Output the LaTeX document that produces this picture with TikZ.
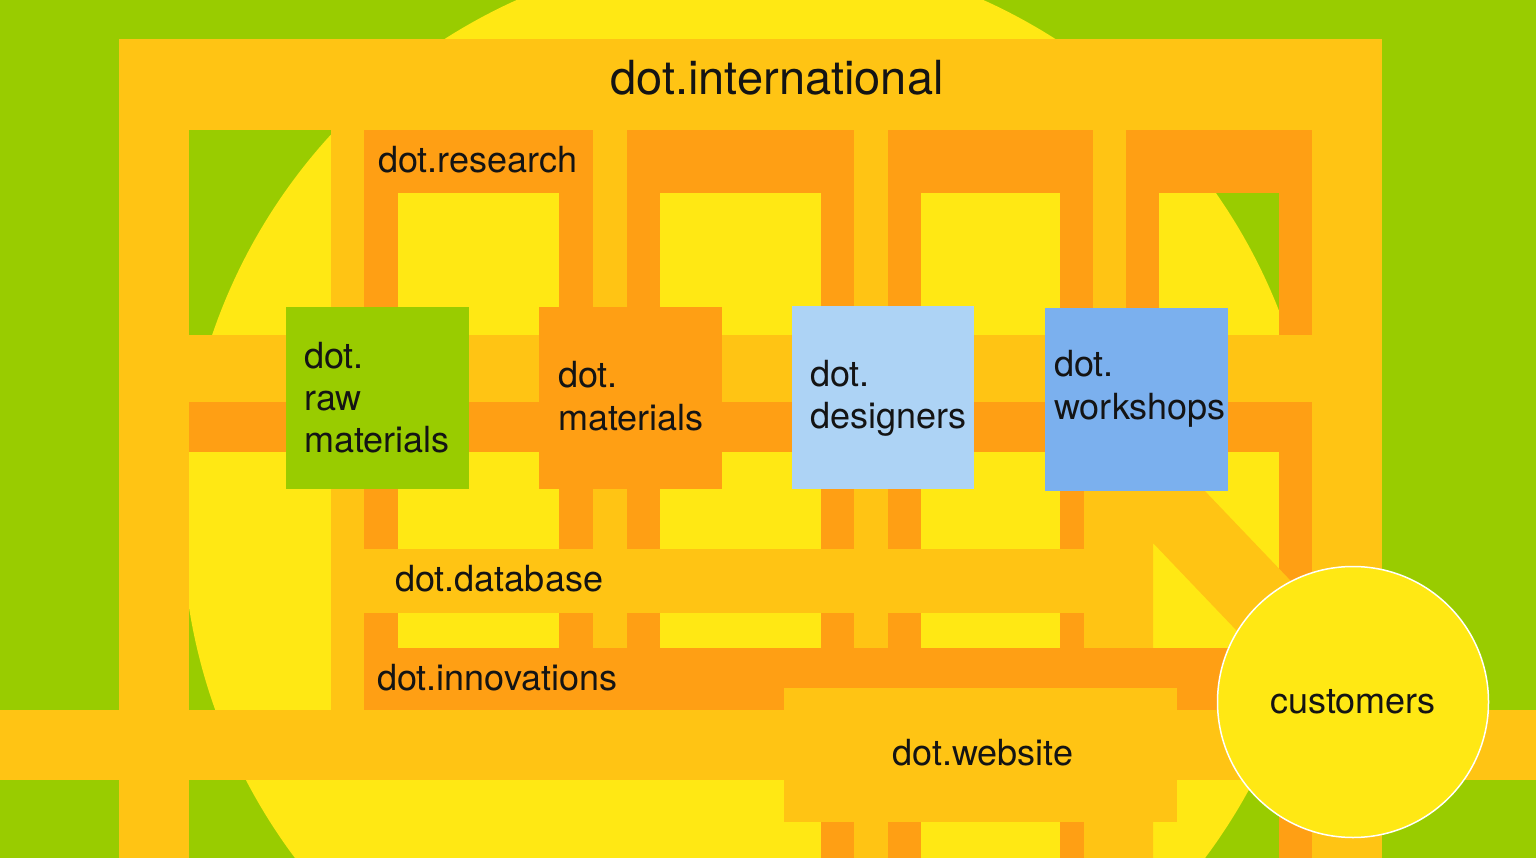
\documentclass[tikz,border=0pt]{standalone}
\usepackage{fontspec}
\setmainfont{TeX Gyre Heros}
\definecolor{bggreen}{RGB}{153,204,0}
\definecolor{sunyellow}{RGB}{255,232,20}
\definecolor{lorange}{RGB}{255,196,20}
\definecolor{dorange}{RGB}{255,159,20}
\definecolor{lblue}{RGB}{173,211,245}
\definecolor{mblue}{RGB}{123,176,238}
\definecolor{ink}{RGB}{20,20,20}
\tikzset{
  lo/.style={fill=lorange},
  og/.style={fill=dorange},
  boxnode/.style={rectangle, anchor=north west, inner sep=0pt, outer sep=0pt, draw=none},
  lbl/.style={anchor=base west, inner sep=0pt, text=ink, font=\fontsize{36}{42}\selectfont},
  lblc/.style={lbl, anchor=base},
}
\begin{document}
\begin{tikzpicture}[x=1pt,y=-1pt]
\path[use as bounding box] (0,0) rectangle (1536,858);
\clip (0,0) rectangle (1536,858);
\fill[bggreen] (0,0) rectangle (1536,858);
\fill[sunyellow] (750,518) circle[radius=568pt];
% outer frame (dot.international)
\fill[lo] (119,39) rectangle (1382,130);
\fill[lo] (119,39) rectangle (189,858);
\fill[lo] (1312,39) rectangle (1382,858);
% light orange columns between frames
\fill[lo] (331,130) rectangle (364,712);
\fill[lo] (593,130) rectangle (627,648);
\fill[lo] (854,130) rectangle (888,858);
\fill[lo] (1093,130) rectangle (1126,489);
% dot.research frame
\fill[og] (364,130) rectangle (593,193);
\fill[og] (364,130) rectangle (398,648);
\fill[og] (559,130) rectangle (593,648);
% frame 2
\fill[og] (627,130) rectangle (854,193);
\fill[og] (627,130) rectangle (660,648);
\fill[og] (821,130) rectangle (854,858);
% frame 3
\fill[og] (888,130) rectangle (1093,193);
\fill[og] (888,130) rectangle (921,858);
\fill[og] (1060,130) rectangle (1093,858);
% frame 4
\fill[og] (1126,130) rectangle (1312,193);
\fill[og] (1126,130) rectangle (1159,489);
\fill[og] (1279,130) rectangle (1312,858);
% horizontal bands through the boxes
\fill[lo] (189,335) rectangle (1382,402);
\fill[og] (189,402) rectangle (1312,452);
% dot.database
\fill[lo] (331,549) rectangle (1153,613);
% diagonal path to customers
\fill[lo] (1084,489) -- (1203,489) -- (1350,643) -- (1300,697) -- (1153,543) -- (1153,858) -- (1084,858) -- cycle;
% dot.innovations
\fill[og] (364,648) rectangle (1260,710);
% dot.website
\fill[lo] (0,710) rectangle (1536,780);
\node[boxnode, fill=lorange, minimum width=393pt, minimum height=134pt] (website) at (784,688) {};
% boxes
\node[boxnode, fill=bggreen, minimum width=183pt, minimum height=182pt] (raw) at (286,307) {};
\node[boxnode, fill=dorange, minimum width=183pt, minimum height=182pt] (materials) at (539,307) {};
\node[boxnode, fill=lblue, minimum width=182pt, minimum height=183pt] (designers) at (792,306) {};
\node[boxnode, fill=mblue, minimum width=183pt, minimum height=183pt] (workshops) at (1045,308) {};
% customers
\node[circle, fill=sunyellow, draw=white, line width=1.5pt, minimum size=271pt, inner sep=0pt,
      text=ink, font=\fontsize{36}{42}\selectfont] (customers) at (1353,702) {customers};
% labels
\node[lblc, font=\fontsize{47}{56}\selectfont] (tintl) at (777,95) {dot.international};
\node[lbl] (tresearch) at (378,173) {dot.research};
\node[lbl] (traw1) at (304,368) {dot.};
\node[lbl] (traw2) at (304,410) {raw};
\node[lbl] (traw3) at (304,452) {materials};
\node[lbl] (tmat1) at (558,388) {dot.};
\node[lbl] (tmat2) at (558,430) {materials};
\node[lbl] (tdes1) at (810,386) {dot.};
\node[lbl] (tdes2) at (810,428) {designers};
\node[lbl] (twork1) at (1054,377) {dot.};
\node[lbl] (twork2) at (1054,419) {workshops};
\node[lbl] (tdatabase) at (395,591) {dot.database};
\node[lbl] (tinnov) at (377,690) {dot.innovations};
\node[lblc] (twebsite) at (983,765) {dot.website};
\end{tikzpicture}
\end{document}
